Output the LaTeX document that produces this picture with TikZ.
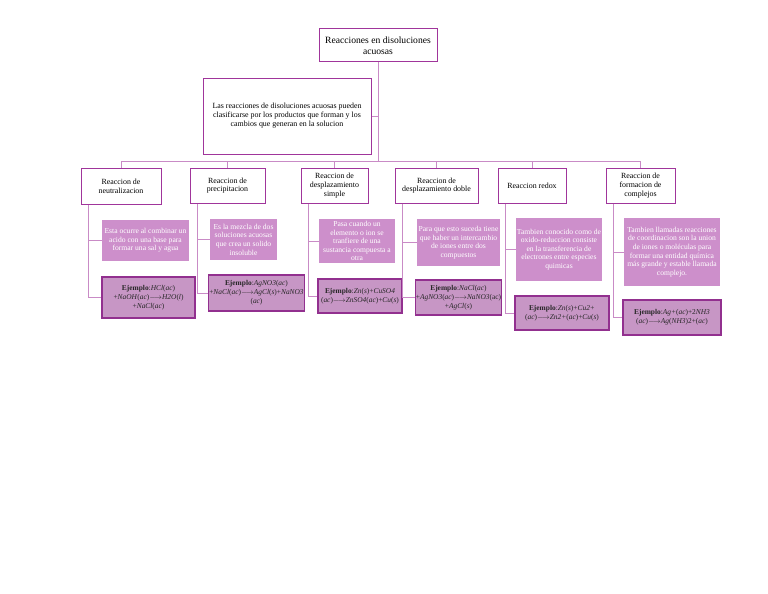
\documentclass[tikz,border=0pt]{standalone}
\usepackage{fontspec}
\setmainfont{Liberation Serif}
\definecolor{bord}{HTML}{A0359B}
\definecolor{linec}{HTML}{C98BC6}
\definecolor{descf}{HTML}{CD8FCB}
\definecolor{exf}{HTML}{C796C5}
\definecolor{exb}{HTML}{92308F}
\newcommand{\rarr}{\ensuremath{\longrightarrow}}
\begin{document}
\begin{tikzpicture}[x=1pt,y=-1pt,
  box/.style={draw=bord,line width=1pt,fill=white,inner sep=0.5pt,align=center,text=black},
  cat/.style={box,font=\fontsize{7.9}{8.6}\selectfont},
  desc/.style={fill=descf,inner sep=0.5pt,align=center,text=white,font=\fontsize{7.6}{8.6}\selectfont},
  ex/.style={draw=exb,line width=1.1pt,fill=exf,inner sep=0.5pt,align=center,text=black!85,font=\fontsize{7.4}{8.8}\selectfont},
  conn/.style={draw=linec,line width=0.8pt}]
\useasboundingbox (0,0) rectangle (768,594);
\fill[white] (0,0) rectangle (768,594);
% title and main description
\node[box,minimum width=118pt,minimum height=33pt,font=\fontsize{9.6}{10.5}\selectfont] (t) at (378,45.5) {Reacciones en disoluciones\\acuosas};
\node[box,minimum width=168pt,minimum height=76pt,font=\fontsize{7.9}{9}\selectfont] (m) at (287,116) {Las reacciones de disoluciones acuosas pueden\\clasificarse por los productos que forman y los\\cambios que generan en la solucion};
% categories
\node[cat,minimum width=80pt,minimum height=36pt] (c1) at (121,186) {Reaccion de\\neutralizacion};
\node[cat,minimum width=75pt,minimum height=35pt] (c2) at (227.5,185.5) {Reaccion de\\precipitacion};
\node[cat,minimum width=67pt,minimum height=35pt] (c3) at (334.5,185.5) {Reaccion de\\desplazamiento\\simple};
\node[cat,minimum width=83pt,minimum height=35pt] (c4) at (436.5,185.5) {Reaccion de\\desplazamiento doble};
\node[cat,minimum width=68pt,minimum height=35pt] (c5) at (532,185.5) {Reaccion redox};
\node[cat,minimum width=69pt,minimum height=35pt] (c6) at (640.5,185.5) {Reaccion de\\formacion de\\complejos};
% descriptions
\node[desc,minimum width=87pt,minimum height=41pt] (d1) at (145.5,240.5) {Esta ocurre al combinar un\\acido con una base para\\formar una sal y agua};
\node[desc,minimum width=67pt,minimum height=41pt] (d2) at (243.5,239.5) {Es la mezcla de dos\\soluciones acuosas\\que crea un solido\\insoluble};
\node[desc,minimum width=76pt,minimum height=44pt] (d3) at (357,241) {Pasa cuando un\\elemento o ion se\\tranfiere de una\\sustancia compuesta a\\otra};
\node[desc,minimum width=83pt,minimum height=47pt] (d4) at (458.5,242.5) {Para que esto suceda tiene\\que haber un intercambio\\de iones entre dos\\compuestos};
\node[desc,minimum width=86pt,minimum height=63pt] (d5) at (559,249.5) {Tambien conocido como de\\oxido-reduccion consiste\\en la transferencia de\\electrones entre especies\\quimicas};
\node[desc,minimum width=96pt,minimum height=68pt] (d6) at (672,252) {Tambien llamadas reacciones\\de coordinacion son la union\\de iones o moléculas para\\formar una entidad química\\más grande y estable llamada\\complejo.};
% examples
\node[ex,minimum width=93pt,minimum height=41pt] (e1) at (148.5,297.5) {\textbf{Ejemplo}:\textit{HCl}(\textit{ac})\\+\textit{NaOH}(\textit{ac})\rarr\textit{H2O}(\textit{l})\\+\textit{NaCl}(\textit{ac})};
\node[ex,minimum width=95pt,minimum height=36pt] (e2) at (256.5,293) {\textbf{Ejemplo}:\textit{AgNO3}(\textit{ac})\\+\textit{NaCl}(\textit{ac})\rarr\textit{AgCl}(\textit{s})+\textit{NaNO3}\\(\textit{ac})};
\node[ex,minimum width=84pt,minimum height=34pt] (e3) at (360,296) {\textbf{Ejemplo}:\textit{Zn}(\textit{s})+\textit{CuSO4}\\(\textit{ac})\rarr\textit{ZnSO4}(\textit{ac})+\textit{Cu}(\textit{s})};
\node[ex,minimum width=85pt,minimum height=35pt] (e4) at (458.5,297.5) {\textbf{Ejemplo}:\textit{NaCl}(\textit{ac})\\+\textit{AgNO3}(\textit{ac})\rarr\textit{NaNO3}(ac)\\+\textit{AgCl}(\textit{s})};
\node[ex,minimum width=94pt,minimum height=34pt] (e5) at (562,313) {\textbf{Ejemplo}:\textit{Zn}(\textit{s})+\textit{Cu2+}\\(\textit{ac})\rarr\textit{Zn2+}(\textit{ac})+\textit{Cu}(\textit{s})};
\node[ex,minimum width=98pt,minimum height=35pt] (e6) at (672,317.5) {\textbf{Ejemplo}:\textit{Ag+}(\textit{ac})+2\textit{NH3}\\(\textit{ac})\rarr\textit{Ag}(\textit{NH3})2+(\textit{ac})};
% connectors
\coordinate (bus) at (378,161);
\draw[conn] (t.south) -- (bus);
\draw[conn] (m.east) -- (m.east -| t.south);
\foreach \i in {1,...,6}{
  \draw[conn] (c\i.north) |- (bus);
  \coordinate (v\i) at ([xshift=8pt]c\i.south west);
  \draw[conn] (v\i) |- (e\i.west);
  \draw[conn] (v\i |- d\i.west) -- (d\i.west);
}
\end{tikzpicture}
\end{document}
